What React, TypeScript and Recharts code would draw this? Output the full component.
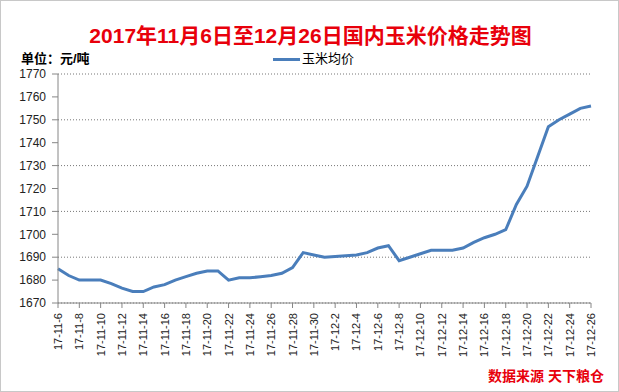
import { CartesianGrid, Line, LineChart, XAxis, YAxis } from 'recharts';

// 2017-11-06 .. 2017-12-26, one point per day
const dates = [
  '17-11-6', '17-11-7', '17-11-8', '17-11-9', '17-11-10', '17-11-11', '17-11-12', '17-11-13',
  '17-11-14', '17-11-15', '17-11-16', '17-11-17', '17-11-18', '17-11-19', '17-11-20', '17-11-21',
  '17-11-22', '17-11-23', '17-11-24', '17-11-25', '17-11-26', '17-11-27', '17-11-28', '17-11-29',
  '17-11-30', '17-12-1', '17-12-2', '17-12-3', '17-12-4', '17-12-5', '17-12-6', '17-12-7',
  '17-12-8', '17-12-9', '17-12-10', '17-12-11', '17-12-12', '17-12-13', '17-12-14', '17-12-15',
  '17-12-16', '17-12-17', '17-12-18', '17-12-19', '17-12-20', '17-12-21', '17-12-22', '17-12-23',
  '17-12-24', '17-12-25', '17-12-26',
];

const cornPrice = [
  1685, 1682, 1680, 1680, 1680, 1678.5, 1676.5, 1675,
  1675, 1677, 1678, 1680, 1681.5, 1683, 1684, 1684,
  1680, 1681, 1681, 1681.5, 1682, 1683, 1685.5, 1692,
  1691, 1690, 1690.3, 1690.6, 1691, 1692, 1694, 1695,
  1688.5, 1690, 1691.5, 1693, 1693, 1693, 1694, 1696.5,
  1698.5, 1700, 1702, 1713, 1721, 1734, 1747, 1750,
  1752.5, 1755, 1756,
];

const yTicks = [1670, 1680, 1690, 1700, 1710, 1720, 1730, 1740, 1750, 1760, 1770];

const data = dates.map((d, i) => ({ date: d, price: cornPrice[i] }));

const lineColor = '#4a7ebb';
const cjk = '"Liberation Sans", "Noto Sans CJK SC", sans-serif';

function DateTick(props: any) {
  const { x, y, payload } = props;
  const ty = y + 3;
  return (
    <text
      x={x}
      y={ty}
      dy={4}
      transform={`rotate(-90 ${x} ${ty})`}
      textAnchor="end"
      fontSize={11}
      fontFamily='"Liberation Sans", Arial, sans-serif'
      fill="#222"
    >
      {payload.value}
    </text>
  );
}

export default function App() {
  return (
    <div
      style={{
        position: 'absolute',
        left: 0,
        top: 0,
        width: 619,
        height: 392,
        background: '#fff',
        boxSizing: 'border-box',
        border: '1px solid #c8c8c8',
        fontFamily: cjk,
      }}
    >
      <div
        style={{
          position: 'absolute',
          left: 0,
          width: 619,
          top: 21,
          textAlign: 'center',
          color: '#e8000b',
          fontWeight: 'bold',
          fontSize: 21,
          lineHeight: '28px',
        }}
      >
        2017年11月6日至12月26日国内玉米价格走势图
      </div>
      <div
        style={{
          position: 'absolute',
          left: 20,
          top: 49,
          fontSize: 13,
          fontWeight: 'bold',
          color: '#000',
          lineHeight: '18px',
        }}
      >
        单位：元/吨
      </div>
      <div
        style={{
          position: 'absolute',
          left: 272,
          top: 49,
          display: 'flex',
          alignItems: 'center',
          fontSize: 13,
          color: '#000',
          lineHeight: '18px',
        }}
      >
        <span style={{ display: 'inline-block', width: 27, height: 3, background: lineColor, marginRight: 2 }} />
        玉米均价
      </div>
      <div
        style={{
          position: 'absolute',
          left: 487,
          top: 366,
          fontSize: 14,
          fontWeight: 'bold',
          color: '#e8000b',
          lineHeight: '18px',
        }}
      >
        数据来源 天下粮仓
      </div>

      <div style={{ position: 'absolute', left: -1, top: -1 }}>
        <LineChart width={619} height={392} data={data} margin={{ top: 74, right: 28, bottom: 29, left: 0 }}>
          <CartesianGrid horizontal vertical={false} stroke="#777" strokeDasharray="1 2" />
          <XAxis
            dataKey="date"
            interval={1}
            height={60}
            tick={<DateTick />}
            tickSize={5}
            tickMargin={2}
            stroke="#868686"
            tickLine={{ stroke: '#868686' }}
          />
          <YAxis
            domain={[1670, 1770]}
            ticks={yTicks}
            width={58}
            tickSize={6}
            tickMargin={6}
            stroke="#868686"
            tick={{ fontSize: 12, fill: '#222', fontFamily: '"Liberation Sans", Arial, sans-serif' }}
          />
          <Line
            type="linear"
            dataKey="price"
            stroke={lineColor}
            strokeWidth={3}
            dot={false}
            isAnimationActive={false}
          />
        </LineChart>
      </div>
    </div>
  );
}
